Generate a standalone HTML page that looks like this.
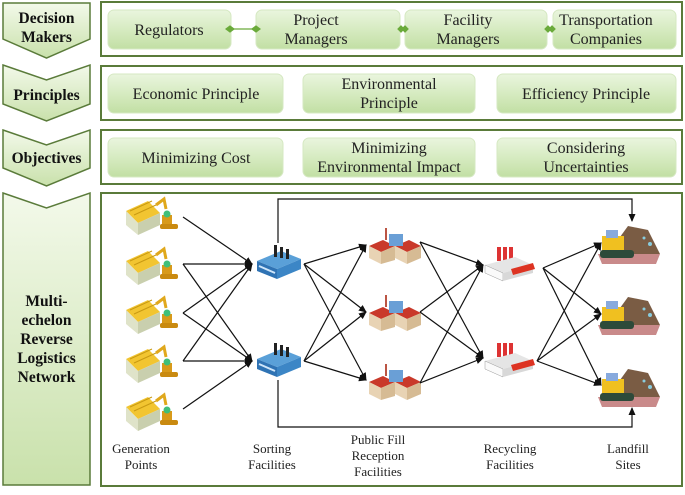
<!DOCTYPE html>
<html><head><meta charset="utf-8"><style>
body{margin:0;background:#fff;}
svg text{font-family:"Liberation Serif",serif;}
</style></head><body>
<svg width="685" height="490" viewBox="0 0 685 490" xmlns="http://www.w3.org/2000/svg">
<defs>
<linearGradient id="chev" x1="0" y1="0" x2="0" y2="1"><stop offset="0" stop-color="#f3f9ea"/><stop offset="1" stop-color="#c9e1ab"/></linearGradient>
<linearGradient id="pill" x1="0" y1="0" x2="0" y2="1"><stop offset="0" stop-color="#eaf5de"/><stop offset="0.5" stop-color="#d6ebc1"/><stop offset="1" stop-color="#c2dfa4"/></linearGradient>
<marker id="ah" markerWidth="8" markerHeight="8" refX="7" refY="4" orient="auto" markerUnits="userSpaceOnUse"><path d="M0,0.5 L8,4 L0,7.5 Z" fill="#111"/></marker>
<g id="gen"><polygon points="0,14 22,4 34,16 12,26" fill="#f2c531"/><polygon points="0,14 12,26 12,38 0,28" fill="#dfe3c9"/><polygon points="12,26 34,16 34,28 12,38" fill="#c9cfae"/><line x1="4" y1="14" x2="26" y2="4" stroke="#c99a12"/><line x1="8" y1="18" x2="30" y2="8" stroke="#c99a12"/><rect x="36" y="18" width="10" height="10" fill="#d89a1a"/><circle cx="41" cy="17" r="3.5" fill="#3fbf7a"/><rect x="34" y="27" width="18" height="5" rx="2" fill="#c98a10"/><path d="M30,8 L38,2 L40,12" stroke="#e0a81c" stroke-width="3" fill="none"/></g>
<g id="sort"><polygon points="0,16 24,6 44,14 20,24" fill="#5aa0d8"/><polygon points="0,16 20,24 20,34 0,26" fill="#2f73b4"/><polygon points="20,24 44,14 44,24 20,34" fill="#3c86c6"/><rect x="17" y="0" width="3" height="12" fill="#222"/><rect x="23" y="2" width="3" height="11" fill="#222"/><rect x="29" y="4" width="3" height="10" fill="#222"/><line x1="2" y1="21" x2="18" y2="28" stroke="#cfe6fa" stroke-width="2"/></g>
<g id="pf"><polygon points="0,14 14,8 26,14 12,20" fill="#c9392a"/><polygon points="26,14 40,8 52,14 38,20" fill="#c9392a"/><polygon points="0,14 12,20 12,32 0,26" fill="#e8d3b4"/><polygon points="12,20 26,14 26,28 12,32" fill="#d6bb94"/><polygon points="26,14 38,20 38,32 26,26" fill="#e8d3b4"/><polygon points="38,20 52,14 52,26 38,32" fill="#d6bb94"/><rect x="20" y="2" width="14" height="12" fill="#6a9fd6"/><rect x="16" y="-4" width="2" height="12" fill="#b54"/></g>
<g id="rec"><rect x="12" y="0" width="4" height="14" fill="#d33"/><rect x="18" y="0" width="4" height="14" fill="#d33"/><rect x="24" y="0" width="4" height="14" fill="#d33"/><polygon points="0,18 30,10 48,18 18,26" fill="#e5e5e5"/><polygon points="0,18 18,26 18,34 0,26" fill="#fafafa" stroke="#999" stroke-width="0.5"/><polygon points="18,26 48,18 48,26 18,34" fill="#d8d8d8"/><polygon points="26,22 48,16 50,22 28,28" fill="#dd3322"/></g>
<g id="lf"><polygon points="14,22 30,0 50,4 62,28 44,34 14,32" fill="#7a5c44"/><polygon points="0,28 62,28 58,38 4,38" fill="#c98a8a"/><rect x="4" y="10" width="22" height="18" fill="#f0c020"/><rect x="8" y="4" width="12" height="8" fill="#8ad"/><rect x="2" y="24" width="34" height="8" rx="3" fill="#2d4a3a"/><circle cx="52" cy="18" r="2" fill="#8cd"/><circle cx="46" cy="12" r="1.5" fill="#8cd"/></g>
</defs>

<g stroke="#5a7b3a" stroke-width="1.5" fill="url(#chev)">
<polygon points="3,3 90,3 90,39 46.5,58 3,39"/>
<polygon points="3,65 46.5,80 90,65 90,104 46.5,121 3,104"/>
<polygon points="3,130 46.5,145 90,130 90,168 46.5,186 3,168"/>
<polygon points="3,193 46.5,208 90,193 90,485 3,485"/>
</g>
<g font-weight="bold" font-size="15.5" text-anchor="middle" fill="#111">
<text x="46.5" y="23">Decision</text><text x="46.5" y="42">Makers</text>
<text x="46.5" y="100">Principles</text>
<text x="46.5" y="163">Objectives</text>
<text x="46.5" y="306">Multi-</text><text x="46.5" y="325">echelon</text><text x="46.5" y="344">Reverse</text><text x="46.5" y="363">Logistics</text><text x="46.5" y="382">Network</text>
</g>

<g fill="#fff" stroke="#5a7b3a" stroke-width="2">
<rect x="101" y="2" width="581" height="54"/>
<rect x="101" y="66" width="581" height="54"/>
<rect x="101" y="130" width="581" height="54"/>
<rect x="101" y="193" width="581" height="293"/>
</g>

<g fill="url(#pill)" stroke="#d5e8c2" stroke-width="1">
<rect x="108" y="10" width="123" height="39" rx="6"/>
<rect x="256" y="10" width="144" height="39" rx="6"/>
<rect x="405" y="10" width="142" height="39" rx="6"/>
<rect x="553" y="10" width="123" height="39" rx="6"/>
<rect x="108" y="74" width="175" height="39" rx="6"/>
<rect x="303" y="74" width="172" height="39" rx="6"/>
<rect x="497" y="74" width="179" height="39" rx="6"/>
<rect x="108" y="138" width="175" height="39" rx="6"/>
<rect x="303" y="138" width="172" height="39" rx="6"/>
<rect x="497" y="138" width="179" height="39" rx="6"/>
</g>
<g stroke="#6aaa3a" stroke-width="1.2" fill="#6aaa3a">
<line x1="230" y1="29" x2="256" y2="29"/><polygon points="226,29 230,26 234,29 230,32"/><polygon points="252,29 256,26 260,29 256,32"/>
<line x1="400" y1="29" x2="405" y2="29"/><polygon points="398,29 401,26 404,29 401,32"/><polygon points="402,29 405,26 408,29 405,32"/>
<line x1="547" y1="29" x2="553" y2="29"/><polygon points="545,29 548,26 551,29 548,32"/><polygon points="549,29 552,26 555,29 552,32"/>
</g>
<g font-size="16" text-anchor="middle" fill="#222">
<text x="169" y="35">Regulators</text>
<text x="316" y="25">Project</text><text x="316" y="44">Managers</text>
<text x="468" y="25">Facility</text><text x="468" y="44">Managers</text>
<text x="606" y="25">Transportation</text><text x="606" y="44">Companies</text>
<text x="196" y="99">Economic Principle</text>
<text x="389" y="89">Environmental</text><text x="389" y="108">Principle</text>
<text x="586" y="99">Efficiency Principle</text>
<text x="196" y="163">Minimizing Cost</text>
<text x="389" y="153">Minimizing</text><text x="389" y="172">Environmental Impact</text>
<text x="586" y="153">Considering</text><text x="586" y="172">Uncertainties</text>
</g>

<use href="#gen" x="126" y="197"/>
<use href="#gen" x="126" y="247"/>
<use href="#gen" x="126" y="296"/>
<use href="#gen" x="126" y="345"/>
<use href="#gen" x="126" y="393"/>
<use href="#sort" x="257" y="245"/>
<use href="#sort" x="257" y="343"/>
<use href="#pf" x="369" y="232"/>
<use href="#pf" x="369" y="299"/>
<use href="#pf" x="369" y="368"/>
<use href="#rec" x="485" y="247"/>
<use href="#rec" x="485" y="343"/>
<use href="#lf" x="598" y="226"/>
<use href="#lf" x="598" y="297"/>
<use href="#lf" x="598" y="369"/>

<g stroke="#111" stroke-width="1.2" fill="none" marker-end="url(#ah)">
<line x1="183" y1="217" x2="252" y2="264"/>
<line x1="183" y1="264" x2="252" y2="264"/>
<line x1="183" y1="264" x2="252" y2="361"/>
<line x1="183" y1="313" x2="252" y2="264"/>
<line x1="183" y1="313" x2="252" y2="361"/>
<line x1="183" y1="361" x2="252" y2="264"/>
<line x1="183" y1="361" x2="252" y2="361"/>
<line x1="183" y1="409" x2="252" y2="361"/>
<line x1="304" y1="264" x2="366" y2="245"/>
<line x1="304" y1="264" x2="366" y2="312"/>
<line x1="304" y1="264" x2="366" y2="380"/>
<line x1="304" y1="361" x2="366" y2="245"/>
<line x1="304" y1="361" x2="366" y2="312"/>
<line x1="304" y1="361" x2="366" y2="380"/>
<line x1="420" y1="242" x2="483" y2="265"/>
<line x1="420" y1="242" x2="483" y2="358"/>
<line x1="420" y1="312" x2="483" y2="265"/>
<line x1="420" y1="312" x2="483" y2="358"/>
<line x1="420" y1="383" x2="483" y2="265"/>
<line x1="420" y1="383" x2="483" y2="358"/>
<line x1="543" y1="268" x2="601" y2="243"/>
<line x1="543" y1="268" x2="601" y2="314"/>
<line x1="543" y1="268" x2="601" y2="385"/>
<line x1="537" y1="361" x2="601" y2="243"/>
<line x1="537" y1="361" x2="601" y2="314"/>
<line x1="537" y1="361" x2="601" y2="385"/>
<polyline points="278,243 278,199 632,199 632,221"/>
<polyline points="278,380 278,427 632,427 632,408"/>
</g>

<g font-size="13" text-anchor="middle" fill="#222">
<text x="141" y="453">Generation</text><text x="141" y="469">Points</text>
<text x="272" y="453">Sorting</text><text x="272" y="469">Facilities</text>
<text x="378" y="444">Public Fill</text><text x="378" y="460">Reception</text><text x="378" y="476">Facilities</text>
<text x="510" y="453">Recycling</text><text x="510" y="469">Facilities</text>
<text x="628" y="453">Landfill</text><text x="628" y="469">Sites</text>
</g>
</svg>
</body></html>
